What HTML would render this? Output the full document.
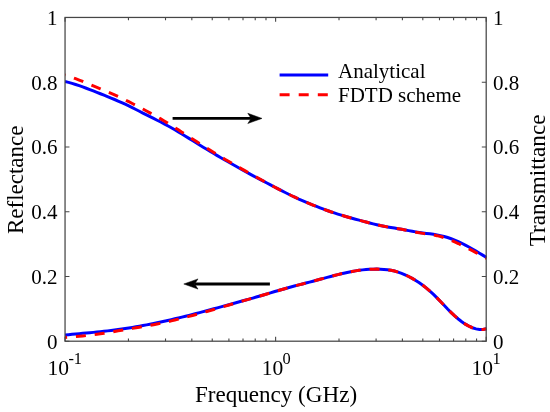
<!DOCTYPE html>
<html><head><meta charset="utf-8"><title>Reflectance and Transmittance</title>
<style>
html,body{margin:0;padding:0;background:#fff;}
body{width:550px;height:412px;overflow:hidden;}
svg{display:block;}
text{font-family:"Liberation Serif",serif;fill:#000;}
</style></head><body>
<svg width="550" height="412" viewBox="0 0 550 412">
<rect width="550" height="412" fill="#fff"/>
<defs><clipPath id="c"><rect x="65.05" y="17.45" width="421.75" height="323.75"/></clipPath></defs>

<path d="M65.05,17.45h4.4M486.2,17.45h-4.4M65.05,82.20h4.4M486.2,82.20h-4.4M65.05,146.95h4.4M486.2,146.95h-4.4M65.05,211.70h4.4M486.2,211.70h-4.4M65.05,276.45h4.4M486.2,276.45h-4.4M65.05,341.20h4.4M486.2,341.20h-4.4M65.05,341.2v-4.4M65.05,17.45v4.4M275.62,341.2v-4.4M275.62,17.45v4.4M486.20,341.2v-4.4M486.20,17.45v4.4M128.44,341.2v-2.8M128.44,17.45v2.8M165.52,341.2v-2.8M165.52,17.45v2.8M191.83,341.2v-2.8M191.83,17.45v2.8M212.24,341.2v-2.8M212.24,17.45v2.8M228.91,341.2v-2.8M228.91,17.45v2.8M243.01,341.2v-2.8M243.01,17.45v2.8M255.22,341.2v-2.8M255.22,17.45v2.8M265.99,341.2v-2.8M265.99,17.45v2.8M339.01,341.2v-2.8M339.01,17.45v2.8M376.09,341.2v-2.8M376.09,17.45v2.8M402.40,341.2v-2.8M402.40,17.45v2.8M422.81,341.2v-2.8M422.81,17.45v2.8M439.48,341.2v-2.8M439.48,17.45v2.8M453.58,341.2v-2.8M453.58,17.45v2.8M465.79,341.2v-2.8M465.79,17.45v2.8M476.56,341.2v-2.8M476.56,17.45v2.8" stroke="#464646" stroke-width="1.1" fill="none"/>
<g clip-path="url(#c)" fill="none" stroke-width="3">
<path d="M65.0,81.50 L68.5,82.39 L72.1,83.39 L75.6,84.49 L79.2,85.66 L82.7,86.91 L86.3,88.22 L89.8,89.56 L93.3,90.94 L96.9,92.33 L100.4,93.74 L104.0,95.15 L107.5,96.59 L111.1,98.03 L114.6,99.50 L118.1,101.01 L121.7,102.58 L125.2,104.21 L128.8,105.92 L132.3,107.68 L135.9,109.48 L139.4,111.29 L142.9,113.09 L146.5,114.88 L150.0,116.65 L153.6,118.43 L157.1,120.22 L160.7,122.02 L164.2,123.86 L167.7,125.76 L171.3,127.72 L174.8,129.76 L178.4,131.86 L181.9,134.00 L185.5,136.18 L189.0,138.38 L192.5,140.58 L196.1,142.79 L199.6,144.98 L203.2,147.16 L206.7,149.32 L210.3,151.45 L213.8,153.55 L217.3,155.63 L220.9,157.68 L224.4,159.72 L228.0,161.74 L231.5,163.76 L235.1,165.78 L238.6,167.79 L242.1,169.78 L245.7,171.75 L249.2,173.68 L252.8,175.59 L256.3,177.46 L259.9,179.31 L263.4,181.15 L266.9,182.99 L270.5,184.84 L274.0,186.71 L277.6,188.57 L281.1,190.42 L284.7,192.24 L288.2,194.02 L291.7,195.74 L295.3,197.40 L298.8,199.01 L302.4,200.57 L305.9,202.09 L309.5,203.57 L313.0,205.03 L316.5,206.46 L320.1,207.86 L323.6,209.21 L327.2,210.51 L330.7,211.76 L334.3,212.94 L337.8,214.08 L341.3,215.17 L344.9,216.21 L348.4,217.23 L352.0,218.22 L355.5,219.18 L359.1,220.14 L362.6,221.09 L366.1,222.04 L369.7,222.98 L373.2,223.90 L376.8,224.77 L380.3,225.57 L383.9,226.27 L387.4,226.91 L390.9,227.50 L394.5,228.08 L398.0,228.66 L401.6,229.28 L405.1,229.93 L408.7,230.60 L412.2,231.26 L415.7,231.89 L419.3,232.46 L422.8,232.96 L426.4,233.41 L429.9,233.85 L433.5,234.34 L437.0,234.91 L440.5,235.62 L444.1,236.49 L447.6,237.53 L451.2,238.73 L454.7,240.09 L458.3,241.61 L461.8,243.27 L465.3,245.06 L468.9,246.96 L472.4,248.96 L476.0,251.04 L479.5,253.18 L483.1,255.37 L486.6,257.60" stroke="#0000ff"/>
<path d="M65.0,335.10 L68.5,334.72 L72.1,334.36 L75.6,334.01 L79.2,333.68 L82.7,333.35 L86.3,333.03 L89.8,332.71 L93.3,332.37 L96.9,332.03 L100.4,331.67 L104.0,331.28 L107.5,330.88 L111.1,330.45 L114.6,330.01 L118.1,329.54 L121.7,329.04 L125.2,328.53 L128.8,327.99 L132.3,327.42 L135.9,326.83 L139.4,326.22 L142.9,325.57 L146.5,324.90 L150.0,324.21 L153.6,323.50 L157.1,322.76 L160.7,322.01 L164.2,321.24 L167.7,320.46 L171.3,319.65 L174.8,318.83 L178.4,317.99 L181.9,317.13 L185.5,316.25 L189.0,315.36 L192.5,314.45 L196.1,313.53 L199.6,312.60 L203.2,311.66 L206.7,310.72 L210.3,309.77 L213.8,308.81 L217.3,307.85 L220.9,306.89 L224.4,305.92 L228.0,304.95 L231.5,303.99 L235.1,303.01 L238.6,302.04 L242.1,301.06 L245.7,300.07 L249.2,299.08 L252.8,298.07 L256.3,297.05 L259.9,296.02 L263.4,294.98 L266.9,293.92 L270.5,292.86 L274.0,291.80 L277.6,290.75 L281.1,289.71 L284.7,288.69 L288.2,287.70 L291.7,286.73 L295.3,285.79 L298.8,284.87 L302.4,283.96 L305.9,283.05 L309.5,282.13 L313.0,281.20 L316.5,280.26 L320.1,279.31 L323.6,278.36 L327.2,277.41 L330.7,276.47 L334.3,275.55 L337.8,274.65 L341.3,273.78 L344.9,272.96 L348.4,272.20 L352.0,271.50 L355.5,270.88 L359.1,270.34 L362.6,269.88 L366.1,269.53 L369.7,269.27 L373.2,269.13 L376.8,269.11 L380.3,269.21 L383.9,269.44 L387.4,269.80 L390.9,270.31 L394.5,271.05 L398.0,272.06 L401.6,273.32 L405.1,274.82 L408.7,276.51 L412.2,278.38 L415.7,280.43 L419.3,282.71 L422.8,285.25 L426.4,288.06 L429.9,291.12 L433.5,294.41 L437.0,297.89 L440.5,301.52 L444.1,305.25 L447.6,308.98 L451.2,312.59 L454.7,315.95 L458.3,319.01 L461.8,321.75 L465.3,324.13 L468.9,326.14 L472.4,327.73 L476.0,328.89 L479.5,329.53 L483.1,329.54 L486.6,328.80" stroke="#0000ff"/>
<path d="M65.0,75.00 L68.5,76.14 L72.1,77.38 L75.6,78.68 L79.2,80.05 L82.7,81.47 L86.3,82.92 L89.8,84.39 L93.3,85.87 L96.9,87.35 L100.4,88.82 L104.0,90.29 L107.5,91.78 L111.1,93.31 L114.6,94.88 L118.1,96.51 L121.7,98.19 L125.2,99.91 L128.8,101.68 L132.3,103.48 L135.9,105.31 L139.4,107.16 L142.9,109.05 L146.5,110.96 L150.0,112.89 L153.6,114.85 L157.1,116.84 L160.7,118.88 L164.2,120.98 L167.7,123.13 L171.3,125.33 L174.8,127.58 L178.4,129.85 L181.9,132.16 L185.5,134.47 L189.0,136.78 L192.5,139.08 L196.1,141.35 L199.6,143.61 L203.2,145.85 L206.7,148.07 L210.3,150.28 L213.8,152.47 L217.3,154.63 L220.9,156.78 L224.4,158.91 L228.0,161.01 L231.5,163.08 L235.1,165.13 L238.6,167.16 L242.1,169.17 L245.7,171.17 L249.2,173.15 L252.8,175.12 L256.3,177.09 L259.9,179.05 L263.4,180.99 L266.9,182.92 L270.5,184.84 L274.0,186.74 L277.6,188.62 L281.1,190.46 L284.7,192.27 L288.2,194.03 L291.7,195.73 L295.3,197.39 L298.8,198.99 L302.4,200.56 L305.9,202.08 L309.5,203.57 L313.0,205.04 L316.5,206.47 L320.1,207.86 L323.6,209.21 L327.2,210.51 L330.7,211.76 L334.3,212.94 L337.8,214.08 L341.3,215.17 L344.9,216.22 L348.4,217.23 L352.0,218.21 L355.5,219.18 L359.1,220.13 L362.6,221.08 L366.1,222.03 L369.7,222.98 L373.2,223.90 L376.8,224.77 L380.3,225.57 L383.9,226.26 L387.4,226.89 L390.9,227.47 L394.5,228.05 L398.0,228.65 L401.6,229.30 L405.1,230.00 L408.7,230.73 L412.2,231.46 L415.7,232.16 L419.3,232.80 L422.8,233.36 L426.4,233.87 L429.9,234.39 L433.5,234.97 L437.0,235.67 L440.5,236.55 L444.1,237.63 L447.6,238.90 L451.2,240.33 L454.7,241.87 L458.3,243.51 L461.8,245.21 L465.3,246.99 L468.9,248.82 L472.4,250.69 L476.0,252.59 L479.5,254.52 L483.1,256.46 L486.6,258.40" stroke="#ff0000" stroke-dasharray="10 8.86" stroke-dashoffset="9.4"/>
<path d="M65.0,337.50 L68.5,337.19 L72.1,336.88 L75.6,336.57 L79.2,336.26 L82.7,335.93 L86.3,335.58 L89.8,335.21 L93.3,334.80 L96.9,334.34 L100.4,333.84 L104.0,333.28 L107.5,332.68 L111.1,332.05 L114.6,331.42 L118.1,330.78 L121.7,330.16 L125.2,329.55 L128.8,328.96 L132.3,328.38 L135.9,327.80 L139.4,327.22 L142.9,326.63 L146.5,326.02 L150.0,325.39 L153.6,324.74 L157.1,324.04 L160.7,323.31 L164.2,322.53 L167.7,321.72 L171.3,320.87 L174.8,320.00 L178.4,319.11 L181.9,318.21 L185.5,317.31 L189.0,316.39 L192.5,315.45 L196.1,314.50 L199.6,313.53 L203.2,312.54 L206.7,311.53 L210.3,310.50 L213.8,309.46 L217.3,308.42 L220.9,307.37 L224.4,306.32 L228.0,305.27 L231.5,304.24 L235.1,303.21 L238.6,302.19 L242.1,301.18 L245.7,300.16 L249.2,299.14 L252.8,298.12 L256.3,297.09 L259.9,296.05 L263.4,295.00 L266.9,293.94 L270.5,292.87 L274.0,291.81 L277.6,290.76 L281.1,289.72 L284.7,288.69 L288.2,287.70 L291.7,286.73 L295.3,285.79 L298.8,284.87 L302.4,283.96 L305.9,283.05 L309.5,282.13 L313.0,281.20 L316.5,280.26 L320.1,279.31 L323.6,278.36 L327.2,277.41 L330.7,276.47 L334.3,275.55 L337.8,274.65 L341.3,273.78 L344.9,272.96 L348.4,272.20 L352.0,271.50 L355.5,270.88 L359.1,270.34 L362.6,269.88 L366.1,269.53 L369.7,269.27 L373.2,269.13 L376.8,269.11 L380.3,269.21 L383.9,269.44 L387.4,269.80 L390.9,270.31 L394.5,271.05 L398.0,272.06 L401.6,273.32 L405.1,274.82 L408.7,276.51 L412.2,278.38 L415.7,280.43 L419.3,282.71 L422.8,285.25 L426.4,288.06 L429.9,291.12 L433.5,294.41 L437.0,297.89 L440.5,301.52 L444.1,305.25 L447.6,308.98 L451.2,312.59 L454.7,315.95 L458.3,319.01 L461.8,321.75 L465.3,324.13 L468.9,326.14 L472.4,327.73 L476.0,328.89 L479.5,329.53 L483.1,329.54 L486.6,328.80" stroke="#ff0000" stroke-dasharray="10 8.86" stroke-dashoffset="7.9"/>
</g>
<rect x="65.05" y="17.45" width="421.15" height="323.75" stroke="#464646" stroke-width="1.25" fill="none"/>
<text x="57.449999999999996" y="24.95" font-size="21" text-anchor="end">1</text>
<text x="493.0" y="24.95" font-size="21" text-anchor="start">1</text>
<text x="57.449999999999996" y="89.70" font-size="21" text-anchor="end">0.8</text>
<text x="493.0" y="89.70" font-size="21" text-anchor="start">0.8</text>
<text x="57.449999999999996" y="154.45" font-size="21" text-anchor="end">0.6</text>
<text x="493.0" y="154.45" font-size="21" text-anchor="start">0.6</text>
<text x="57.449999999999996" y="219.20" font-size="21" text-anchor="end">0.4</text>
<text x="493.0" y="219.20" font-size="21" text-anchor="start">0.4</text>
<text x="57.449999999999996" y="283.95" font-size="21" text-anchor="end">0.2</text>
<text x="493.0" y="283.95" font-size="21" text-anchor="start">0.2</text>
<text x="57.449999999999996" y="348.70" font-size="21" text-anchor="end">0</text>
<text x="493.0" y="348.70" font-size="21" text-anchor="start">0</text>
<text x="47.4" y="375.1" font-size="21.5">10</text>
<text x="68.4" y="363.7" font-size="16.4">-1</text>
<text x="261.7" y="375.1" font-size="21.5">10</text>
<text x="282.5" y="363.7" font-size="16.4">0</text>
<text x="471.5" y="375.1" font-size="21.5">10</text>
<text x="492.5" y="363.7" font-size="16.4">1</text>
<text x="276" y="401.8" font-size="23.1" text-anchor="middle">Frequency (GHz)</text>
<text transform="translate(22.8,179.8) rotate(-90)" font-size="23" text-anchor="middle">Reflectance</text>
<text transform="translate(544.8,180.4) rotate(-90)" font-size="23.2" text-anchor="middle">Transmittance</text>
<path d="M279.6,75H328.2" stroke="#0000ff" stroke-width="3" fill="none"/>
<path d="M279.6,94.8H328.2" stroke="#ff0000" stroke-width="3" fill="none" stroke-dasharray="10 9.1"/>
<text x="338" y="78.4" font-size="21">Analytical</text>
<text x="338" y="102.1" font-size="21">FDTD scheme</text>
<path d="M172.6,118.4H251.20000000000002" stroke="#000" stroke-width="2.8" fill="none"/><path d="M262.0,118.4L247.8,113.30000000000001L251.20000000000002,118.4L247.8,123.5Z" fill="#000" stroke="#000" stroke-width="0.5" stroke-linejoin="round"/>
<path d="M269.9,284.0H194.6" stroke="#000" stroke-width="2.8" fill="none"/><path d="M183.8,284.0L198.0,278.9L194.6,284.0L198.0,289.1Z" fill="#000" stroke="#000" stroke-width="0.5" stroke-linejoin="round"/>
</svg></body></html>
